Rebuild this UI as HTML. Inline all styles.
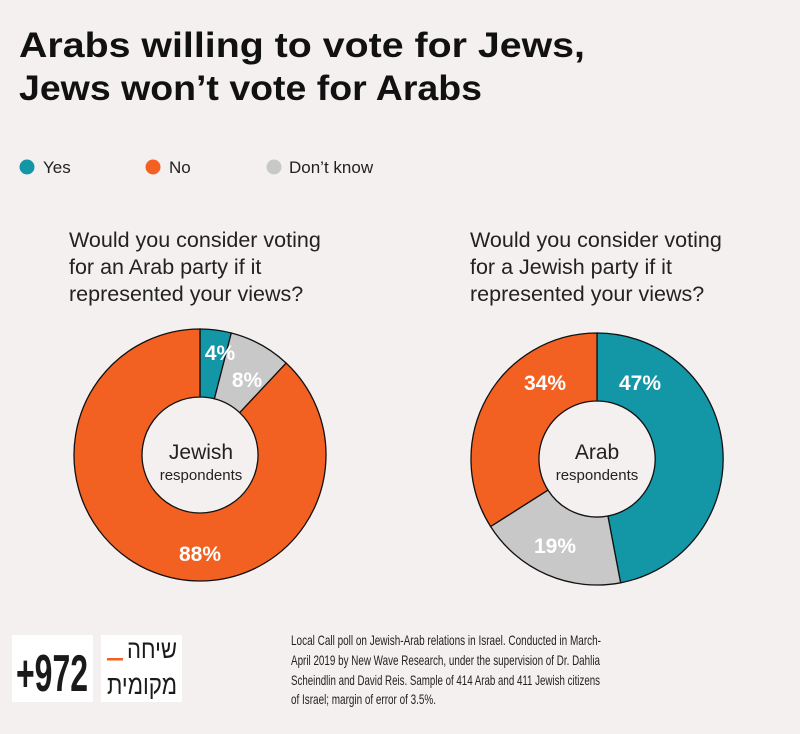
<!DOCTYPE html>
<html><head><meta charset="utf-8"><style>
body{margin:0;background:#f4f0ef;}
svg{display:block}
text{font-family:"Liberation Sans",sans-serif;}
</style></head><body>
<svg width="800" height="734" viewBox="0 0 800 734" xmlns="http://www.w3.org/2000/svg">
<rect width="800" height="734" fill="#f4f0ef"/>
<text x="19" y="57" font-size="35" font-weight="bold" fill="#111" textLength="566" lengthAdjust="spacingAndGlyphs">Arabs willing to vote for Jews,</text>
<text x="19" y="100" font-size="35" font-weight="bold" fill="#111" textLength="463" lengthAdjust="spacingAndGlyphs">Jews won’t vote for Arabs</text>
<circle cx="27" cy="167" r="7.5" fill="#1396a6"/>
<text x="43" y="173" font-size="17" fill="#222">Yes</text>
<circle cx="153" cy="167" r="7.5" fill="#f26122"/>
<text x="169" y="173" font-size="17" fill="#222">No</text>
<circle cx="274" cy="167" r="7.5" fill="#c8c8c8"/>
<text x="289" y="173" font-size="17" fill="#222">Don’t know</text>

<g font-size="21.5" fill="#222">
<text x="69" y="247">Would you consider voting</text>
<text x="69" y="274">for an Arab party if it</text>
<text x="69" y="301">represented your views?</text>
<text x="470" y="247">Would you consider voting</text>
<text x="470" y="274">for a Jewish party if it</text>
<text x="470" y="301">represented your views?</text>
</g>

<g stroke="#111" stroke-width="1.3">
<path d="M200,329 A126,126 0 0 1 231.3,333 L214.4,398.8 A58,58 0 0 0 200,397 Z" fill="#1396a6"/>
<path d="M231.3,333 A126,126 0 0 1 286.2,363.1 L239.7,412.7 A58,58 0 0 0 214.4,398.8 Z" fill="#c8c8c8"/>
<path d="M286.2,363.1 A126,126 0 1 1 200,329 L200,397 A58,58 0 1 0 239.7,412.7 Z" fill="#f26122"/>

<path d="M597,333 A126,126 0 0 1 620.6,582.8 L607.9,516 A58,58 0 0 0 597,401 Z" fill="#1396a6"/>
<path d="M620.6,582.8 A126,126 0 0 1 490.6,526.5 L548,490.1 A58,58 0 0 0 607.9,516 Z" fill="#c8c8c8"/>
<path d="M490.6,526.5 A126,126 0 0 1 597,333 L597,401 A58,58 0 0 0 548,490.1 Z" fill="#f26122"/>
</g>

<g font-size="21" font-weight="bold" fill="#fff" text-anchor="middle">
<text x="220" y="360">4%</text>
<text x="247" y="387">8%</text>
<text x="200" y="561">88%</text>
<text x="640" y="390">47%</text>
<text x="545" y="390">34%</text>
<text x="555" y="553">19%</text>
</g>
<g fill="#222" text-anchor="middle">
<text x="201" y="459" font-size="21">Jewish</text>
<text x="201" y="480" font-size="15">respondents</text>
<text x="597" y="459" font-size="21">Arab</text>
<text x="597" y="480" font-size="15">respondents</text>
</g>

<rect x="12" y="635" width="81" height="67" fill="#fff"/>
<text x="52" y="691" font-size="52" font-weight="bold" fill="#1a1a1a" text-anchor="middle" textLength="72" lengthAdjust="spacingAndGlyphs">+972</text>
<rect x="101" y="635" width="81" height="67" fill="#fff"/>
<text x="177" y="658" font-size="26" fill="#1a1a1a" text-anchor="end" textLength="50" lengthAdjust="spacingAndGlyphs" font-family="Liberation Sans, DejaVu Sans, sans-serif">שיחה</text>
<rect x="107" y="658" width="16" height="2.5" fill="#f26122"/>
<text x="177" y="694" font-size="27" fill="#1a1a1a" text-anchor="end" textLength="70" lengthAdjust="spacingAndGlyphs" font-family="Liberation Sans, DejaVu Sans, sans-serif">מקומית</text>

<g font-size="14" fill="#222">
<text x="291" y="645" textLength="310" lengthAdjust="spacingAndGlyphs">Local Call poll on Jewish-Arab relations in Israel. Conducted in March-</text>
<text x="291" y="665" textLength="309" lengthAdjust="spacingAndGlyphs">April 2019 by New Wave Research, under the supervision of Dr. Dahlia</text>
<text x="291" y="685" textLength="309" lengthAdjust="spacingAndGlyphs">Scheindlin and David Reis. Sample of 414 Arab and 411 Jewish citizens</text>
<text x="291" y="704" textLength="145" lengthAdjust="spacingAndGlyphs">of Israel; margin of error of 3.5%.</text>
</g>
</svg>
</body></html>
